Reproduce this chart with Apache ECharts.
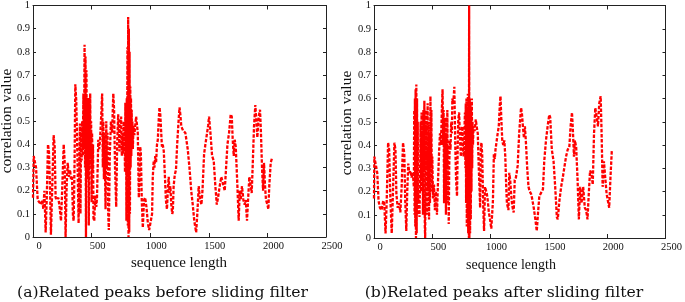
<!DOCTYPE html>
<html><head><meta charset="utf-8">
<script src="https://cdn.jsdelivr.net/npm/echarts@6/dist/echarts.min.js"></script>
<style>html,body{margin:0;padding:0;background:#fff;}#c{width:685px;height:302px;}</style>
</head><body><div id="c"></div>
<script>
// Panel (a): correlation before sliding filter
const seqA = [
 0,6,18,26,40,54,68,80,88,97,
 108,117,128,136,145,153,165,176,185,193,
 204,216,227,239,250,262,270,278,287,296,
 307,316,324,333,341,347,355,361,369,381,
 389,395,400,405,410,415,420,425,430,435,
 440,444,448,452,456,460,464,468,472,476,
 480,484,488,492,496,500,504,508,512,516,
 523,531,540,546,557,565,572,580,590,596,
 600,605,610,619,625,630,636,642,647,655,
 665,675,685,692,700,710,718,727,733,738,
 745,752,758,763,767,774,781,785,788,791,
 794,797,800,803,806,809,812,815,818,821,
 824,827,830,833,836,839,842,845,848,852,
 857,865,872,880,888,894,903,914,920,928,
 937,947,957,968,980,991,1002,1016,1022,1030,
 1036,1043,1050,1058,1065,1072,1079,1086,1093,1100,
 1107,1116,1125,1134,1143,1150,1158,1165,1172,1180,
 1188,1193,1200,1210,1220,1230,1242,1250,1257,1265,
 1272,1280,1290,1300,1320,1335,1350,1363,1376,1392,
 1402,1414,1423,1437,1446,1460,1471,1483,1494,1502,
 1514,1528,1542,1556,1568,1579,1593,1607,1621,1636,
 1644,1659,1673,1687,1696,1704,1713,1721,1730,1744,
 1755,1764,1772,1783,1795,1806,1815,1826,1835,1846,
 1857,1866,1874,1886,1897,1906,1914,1926,1937,1945,
 1954,1963,1971,1980,1988,2000,2008,2016,2028,2039
];
const corrA = [
 0.17,0.35,0.35,0.30,0.16,0.15,0.14,0.16,0.12,0.20,
 0.02,0.16,0.40,0.37,0.22,0.01,0.23,0.44,0.39,0.17,
 0.16,0.17,0.13,0.07,0.22,0.40,0.33,0.00,0.22,0.32,
 0.26,0.29,0.25,0.26,0.09,0.07,0.33,0.66,0.59,0.30,
 0.06,0.30,0.49,0.10,0.45,0.33,0.50,0.35,0.62,0.38,
 0.83,0.30,0.78,0.00,0.72,0.25,0.60,0.40,0.55,0.05,
 0.60,0.35,0.62,0.30,0.50,0.15,0.45,0.28,0.40,0.08,
 0.07,0.18,0.13,0.17,0.42,0.38,0.42,0.50,0.62,0.30,
 0.50,0.25,0.45,0.12,0.50,0.30,0.45,0.10,0.03,0.35,
 0.50,0.45,0.62,0.55,0.30,0.13,0.40,0.53,0.45,0.37,
 0.50,0.52,0.35,0.45,0.36,0.50,0.45,0.28,0.58,0.33,
 0.55,0.07,0.60,0.35,0.82,0.05,0.95,0.00,0.90,0.02,
 0.80,0.10,0.65,0.30,0.60,0.35,0.55,0.40,0.50,0.38,
 0.48,0.44,0.48,0.52,0.48,0.45,0.17,0.39,0.37,0.16,
 0.04,0.16,0.17,0.13,0.06,0.03,0.03,0.10,0.26,0.33,
 0.30,0.35,0.32,0.40,0.42,0.50,0.56,0.53,0.46,0.39,
 0.40,0.37,0.27,0.16,0.12,0.20,0.26,0.19,0.22,0.14,
 0.10,0.11,0.22,0.27,0.29,0.40,0.50,0.56,0.53,0.48,
 0.47,0.46,0.46,0.45,0.38,0.30,0.20,0.14,0.07,0.02,
 0.10,0.22,0.17,0.14,0.20,0.36,0.40,0.40,0.48,0.52,
 0.45,0.35,0.33,0.22,0.14,0.17,0.22,0.26,0.23,0.20,
 0.27,0.40,0.45,0.53,0.52,0.42,0.35,0.42,0.39,0.22,
 0.07,0.20,0.16,0.22,0.16,0.14,0.16,0.07,0.16,0.26,
 0.26,0.19,0.30,0.48,0.57,0.50,0.43,0.52,0.55,0.45,
 0.30,0.20,0.32,0.22,0.16,0.14,0.12,0.22,0.32,0.34
];
// Panel (b): correlation after sliding filter
const seqB = [
 0,3,17,28,39,51,65,79,88,99,
 108,121,130,141,152,164,175,184,192,203,
 215,226,237,249,260,268,277,285,294,302,
 311,322,333,342,345,348,351,354,357,360,
 363,366,369,372,375,378,382,390,396,400,
 404,408,412,416,420,424,428,432,436,439,
 443,447,451,455,460,464,468,472,476,480,
 484,488,492,496,500,506,515,522,531,540,
 548,559,566,574,582,588,593,597,601,605,
 609,613,617,621,625,629,633,637,641,645,
 650,656,662,668,672,680,689,697,704,712,
 718,723,730,738,745,751,757,763,769,775,
 780,784,787,790,793,796,799,802,805,808,
 811,814,816,818,821,824,827,830,833,836,
 839,842,845,849,853,863,873,880,890,898,
 906,910,916,921,928,936,944,952,960,968,
 976,985,995,1006,1014,1020,1028,1036,1042,1050,
 1058,1070,1080,1085,1092,1100,1108,1118,1126,1134,
 1140,1153,1160,1168,1176,1185,1198,1207,1217,1232,
 1245,1261,1268,1277,1286,1294,1302,1314,1325,1336,
 1347,1356,1370,1384,1396,1407,1418,1435,1449,1460,
 1475,1489,1503,1511,1525,1540,1554,1568,1576,1590,
 1605,1619,1633,1647,1661,1675,1686,1698,1706,1715,
 1723,1734,1746,1757,1768,1780,1794,1808,1819,1831,
 1842,1853,1864,1876,1887,1898,1910,1921,1932,1944,
 1952,1961,1972,1983,1995,2006,2017,2028,2040
];
const corrB = [
 0.17,0.35,0.35,0.28,0.16,0.13,0.12,0.16,0.15,0.02,
 0.14,0.41,0.38,0.16,0.02,0.22,0.41,0.38,0.19,0.13,
 0.15,0.11,0.22,0.41,0.36,0.16,0.03,0.20,0.32,0.28,
 0.29,0.26,0.28,0.22,0.55,0.10,0.60,0.05,0.64,0.00,
 0.66,0.02,0.60,0.10,0.50,0.15,0.19,0.09,0.30,0.50,
 0.20,0.54,0.25,0.45,0.10,0.55,0.30,0.59,0.05,0.00,
 0.50,0.30,0.55,0.10,0.58,0.20,0.50,0.08,0.45,0.15,
 0.61,0.30,0.55,0.20,0.35,0.17,0.23,0.12,0.20,0.10,
 0.23,0.38,0.45,0.40,0.55,0.64,0.40,0.55,0.15,0.50,
 0.20,0.52,0.10,0.45,0.30,0.55,0.15,0.40,0.06,0.30,
 0.42,0.38,0.50,0.45,0.60,0.58,0.65,0.40,0.25,0.18,
 0.40,0.51,0.54,0.42,0.35,0.45,0.48,0.38,0.35,0.45,
 0.54,0.30,0.58,0.15,0.60,0.05,0.55,0.10,0.62,0.02,
 0.60,0.00,1.00,0.00,0.60,0.02,0.58,0.08,0.55,0.20,
 0.60,0.30,0.50,0.40,0.48,0.46,0.51,0.48,0.45,0.31,
 0.20,0.13,0.38,0.41,0.36,0.15,0.03,0.22,0.22,0.19,
 0.16,0.11,0.08,0.04,0.04,0.16,0.36,0.34,0.38,0.38,
 0.44,0.48,0.58,0.61,0.51,0.42,0.40,0.42,0.35,0.22,
 0.15,0.12,0.28,0.25,0.19,0.14,0.11,0.25,0.26,0.31,
 0.45,0.56,0.54,0.48,0.43,0.48,0.42,0.30,0.22,0.20,
 0.19,0.17,0.13,0.08,0.03,0.11,0.18,0.18,0.21,0.33,
 0.42,0.48,0.53,0.52,0.38,0.33,0.22,0.09,0.08,0.16,
 0.22,0.26,0.26,0.35,0.38,0.39,0.48,0.54,0.46,0.35,
 0.42,0.39,0.25,0.08,0.22,0.15,0.22,0.13,0.12,0.08,
 0.19,0.29,0.28,0.23,0.45,0.56,0.52,0.48,0.58,0.61,
 0.45,0.22,0.33,0.26,0.19,0.16,0.13,0.26,0.38
];
const xTitle = 'sequence length';
const yTitle = 'correlation value';
const captionA = '(a)Related peaks before sliding filter';
const captionB = '(b)Related peaks after sliding filter';

function pairs(xs, ys){ return xs.map((x,i)=>[x, ys[i]]); }
function fitSize(text, fam, w){
  const c = document.createElement('canvas').getContext('2d');
  c.font = '100px ' + fam;
  return 100 * w / c.measureText(text).width;
}
const TF = '"Liberation Serif", "Times New Roman", serif';
const CF = '"DejaVu Serif", serif';
const capSize = fitSize(captionA, CF, 291);

const lineCol = '#222';
function xPair(gi){
  return [
    {type:'value', gridIndex:gi, position:'bottom', min:0, max:2500, interval:500,
     axisLine:{show:true, onZero:false, lineStyle:{color:lineCol, width:1}},
     axisTick:{show:true, inside:true, length:4, lineStyle:{color:lineCol}},
     axisLabel:{margin:4, color:'#111', fontFamily:TF, fontSize:10.5, padding:[0,0,0,12],
       formatter:function(v){ return String(v); }},
     splitLine:{show:false}},
    {type:'value', gridIndex:gi, position:'top', min:0, max:2500, interval:500,
     axisLine:{show:true, onZero:false, lineStyle:{color:lineCol, width:1}},
     axisTick:{show:true, inside:true, length:4, lineStyle:{color:lineCol}},
     axisLabel:{show:false}, splitLine:{show:false}}
  ];
}
function yPair(gi){
  return [
    {type:'value', gridIndex:gi, position:'left', min:0, max:1, interval:0.1,
     axisLine:{show:true, onZero:false, lineStyle:{color:lineCol, width:1}},
     axisTick:{show:true, inside:true, length:3, lineStyle:{color:lineCol}},
     axisLabel:{margin:3, color:'#111', fontFamily:TF, fontSize:10.5},
     splitLine:{show:false}},
    {type:'value', gridIndex:gi, position:'right', min:0, max:1, interval:0.1,
     axisLine:{show:true, onZero:false, lineStyle:{color:lineCol, width:1}},
     axisTick:{show:true, inside:true, length:3, lineStyle:{color:lineCol}},
     axisLabel:{show:false}, splitLine:{show:false}}
  ];
}
const lineStyle = {color:'#ff0000', width:2.3, type:[3.5,1.6]};
const chart = echarts.init(document.getElementById('c'), null, {renderer:'canvas'});
chart.setOption({
  animation:false,
  backgroundColor:'#fff',
  grid:[
    {left:33, top:5, width:293, height:232},
    {left:374, top:5, width:295, height:233}
  ],
  xAxis: xPair(0).concat(xPair(1)),
  yAxis: yPair(0).concat(yPair(1)),
  series:[
    {type:'line', xAxisIndex:0, yAxisIndex:0, data:pairs(seqA, corrA), symbol:'none', showSymbol:false, lineStyle:lineStyle},
    {type:'line', xAxisIndex:2, yAxisIndex:2, data:pairs(seqB, corrB), symbol:'none', showSymbol:false, lineStyle:lineStyle}
  ],
  graphic:[
    {type:'text', x:7, y:121, rotation:Math.PI/2, style:{text:yTitle, font:'15.5px '+TF, fill:'#111', textAlign:'center', textVerticalAlign:'middle'}},
    {type:'text', x:347, y:123, rotation:Math.PI/2, style:{text:yTitle, font:'15.5px '+TF, fill:'#111', textAlign:'center', textVerticalAlign:'middle'}},
    {type:'text', x:179, y:263, style:{text:xTitle, font:'15px '+TF, fill:'#111', textAlign:'center', textVerticalAlign:'middle'}},
    {type:'text', x:511, y:265, style:{text:xTitle, font:'14px '+TF, fill:'#111', textAlign:'center', textVerticalAlign:'middle'}},
    {type:'text', x:162.5, y:293, style:{text:captionA, font:capSize.toFixed(2)+'px '+CF, fill:'#111', textAlign:'center', textVerticalAlign:'middle'}},
    {type:'text', x:504, y:293, style:{text:captionB, font:capSize.toFixed(2)+'px '+CF, fill:'#111', textAlign:'center', textVerticalAlign:'middle'}}
  ]
});
</script>
</body></html>
